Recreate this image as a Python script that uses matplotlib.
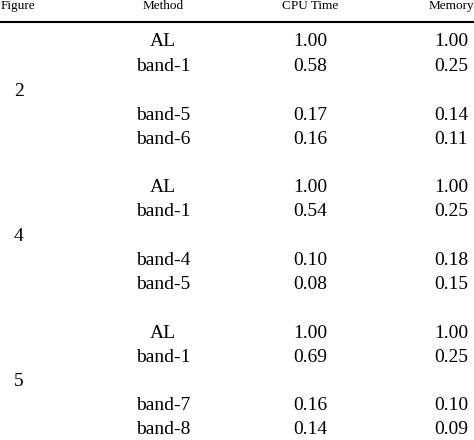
import matplotlib.pyplot as plt

plt.rcParams['font.family'] = 'Liberation Serif'

headers = ["Figure", "Method", "CPU Time", "Memory"]
figures = ["2", "4", "5"]
methods = [["AL", "band-1", "band-5", "band-6"],
           ["AL", "band-1", "band-4", "band-5"],
           ["AL", "band-1", "band-7", "band-8"]]
cpu_time = [["1.00", "0.58", "0.17", "0.16"],
            ["1.00", "0.54", "0.10", "0.08"],
            ["1.00", "0.69", "0.16", "0.14"]]
memory = [["1.00", "0.25", "0.14", "0.11"],
          ["1.00", "0.25", "0.18", "0.15"],
          ["1.00", "0.25", "0.10", "0.09"]]

fig = plt.figure(figsize=(4.74, 4.40), dpi=100)
ax = fig.add_axes([0, 0, 1, 1])
ax.set_xlim(0, 474)
ax.set_ylim(440, 0)
ax.axis('off')

col_x = [18, 163, 310, 451]
for x, h in zip(col_x, headers):
    ax.text(x, 6, h, ha='center', va='center', fontsize=9.5)
ax.plot([0, 474], [22, 22], color='black', linewidth=1.5)

row_offsets = [0, 24.5, 73, 97]
for g, fig_label in enumerate(figures):
    y0 = 42 + g * 145.5
    ax.text(19, y0 + 49, fig_label, ha='center', va='center', fontsize=14)
    for r in range(4):
        y = y0 + row_offsets[r]
        ax.text(col_x[1], y, methods[g][r], ha='center', va='center', fontsize=14)
        ax.text(col_x[2], y, cpu_time[g][r], ha='center', va='center', fontsize=14)
        ax.text(col_x[3], y, memory[g][r], ha='center', va='center', fontsize=14)

fig.savefig("out.png", dpi=100)
